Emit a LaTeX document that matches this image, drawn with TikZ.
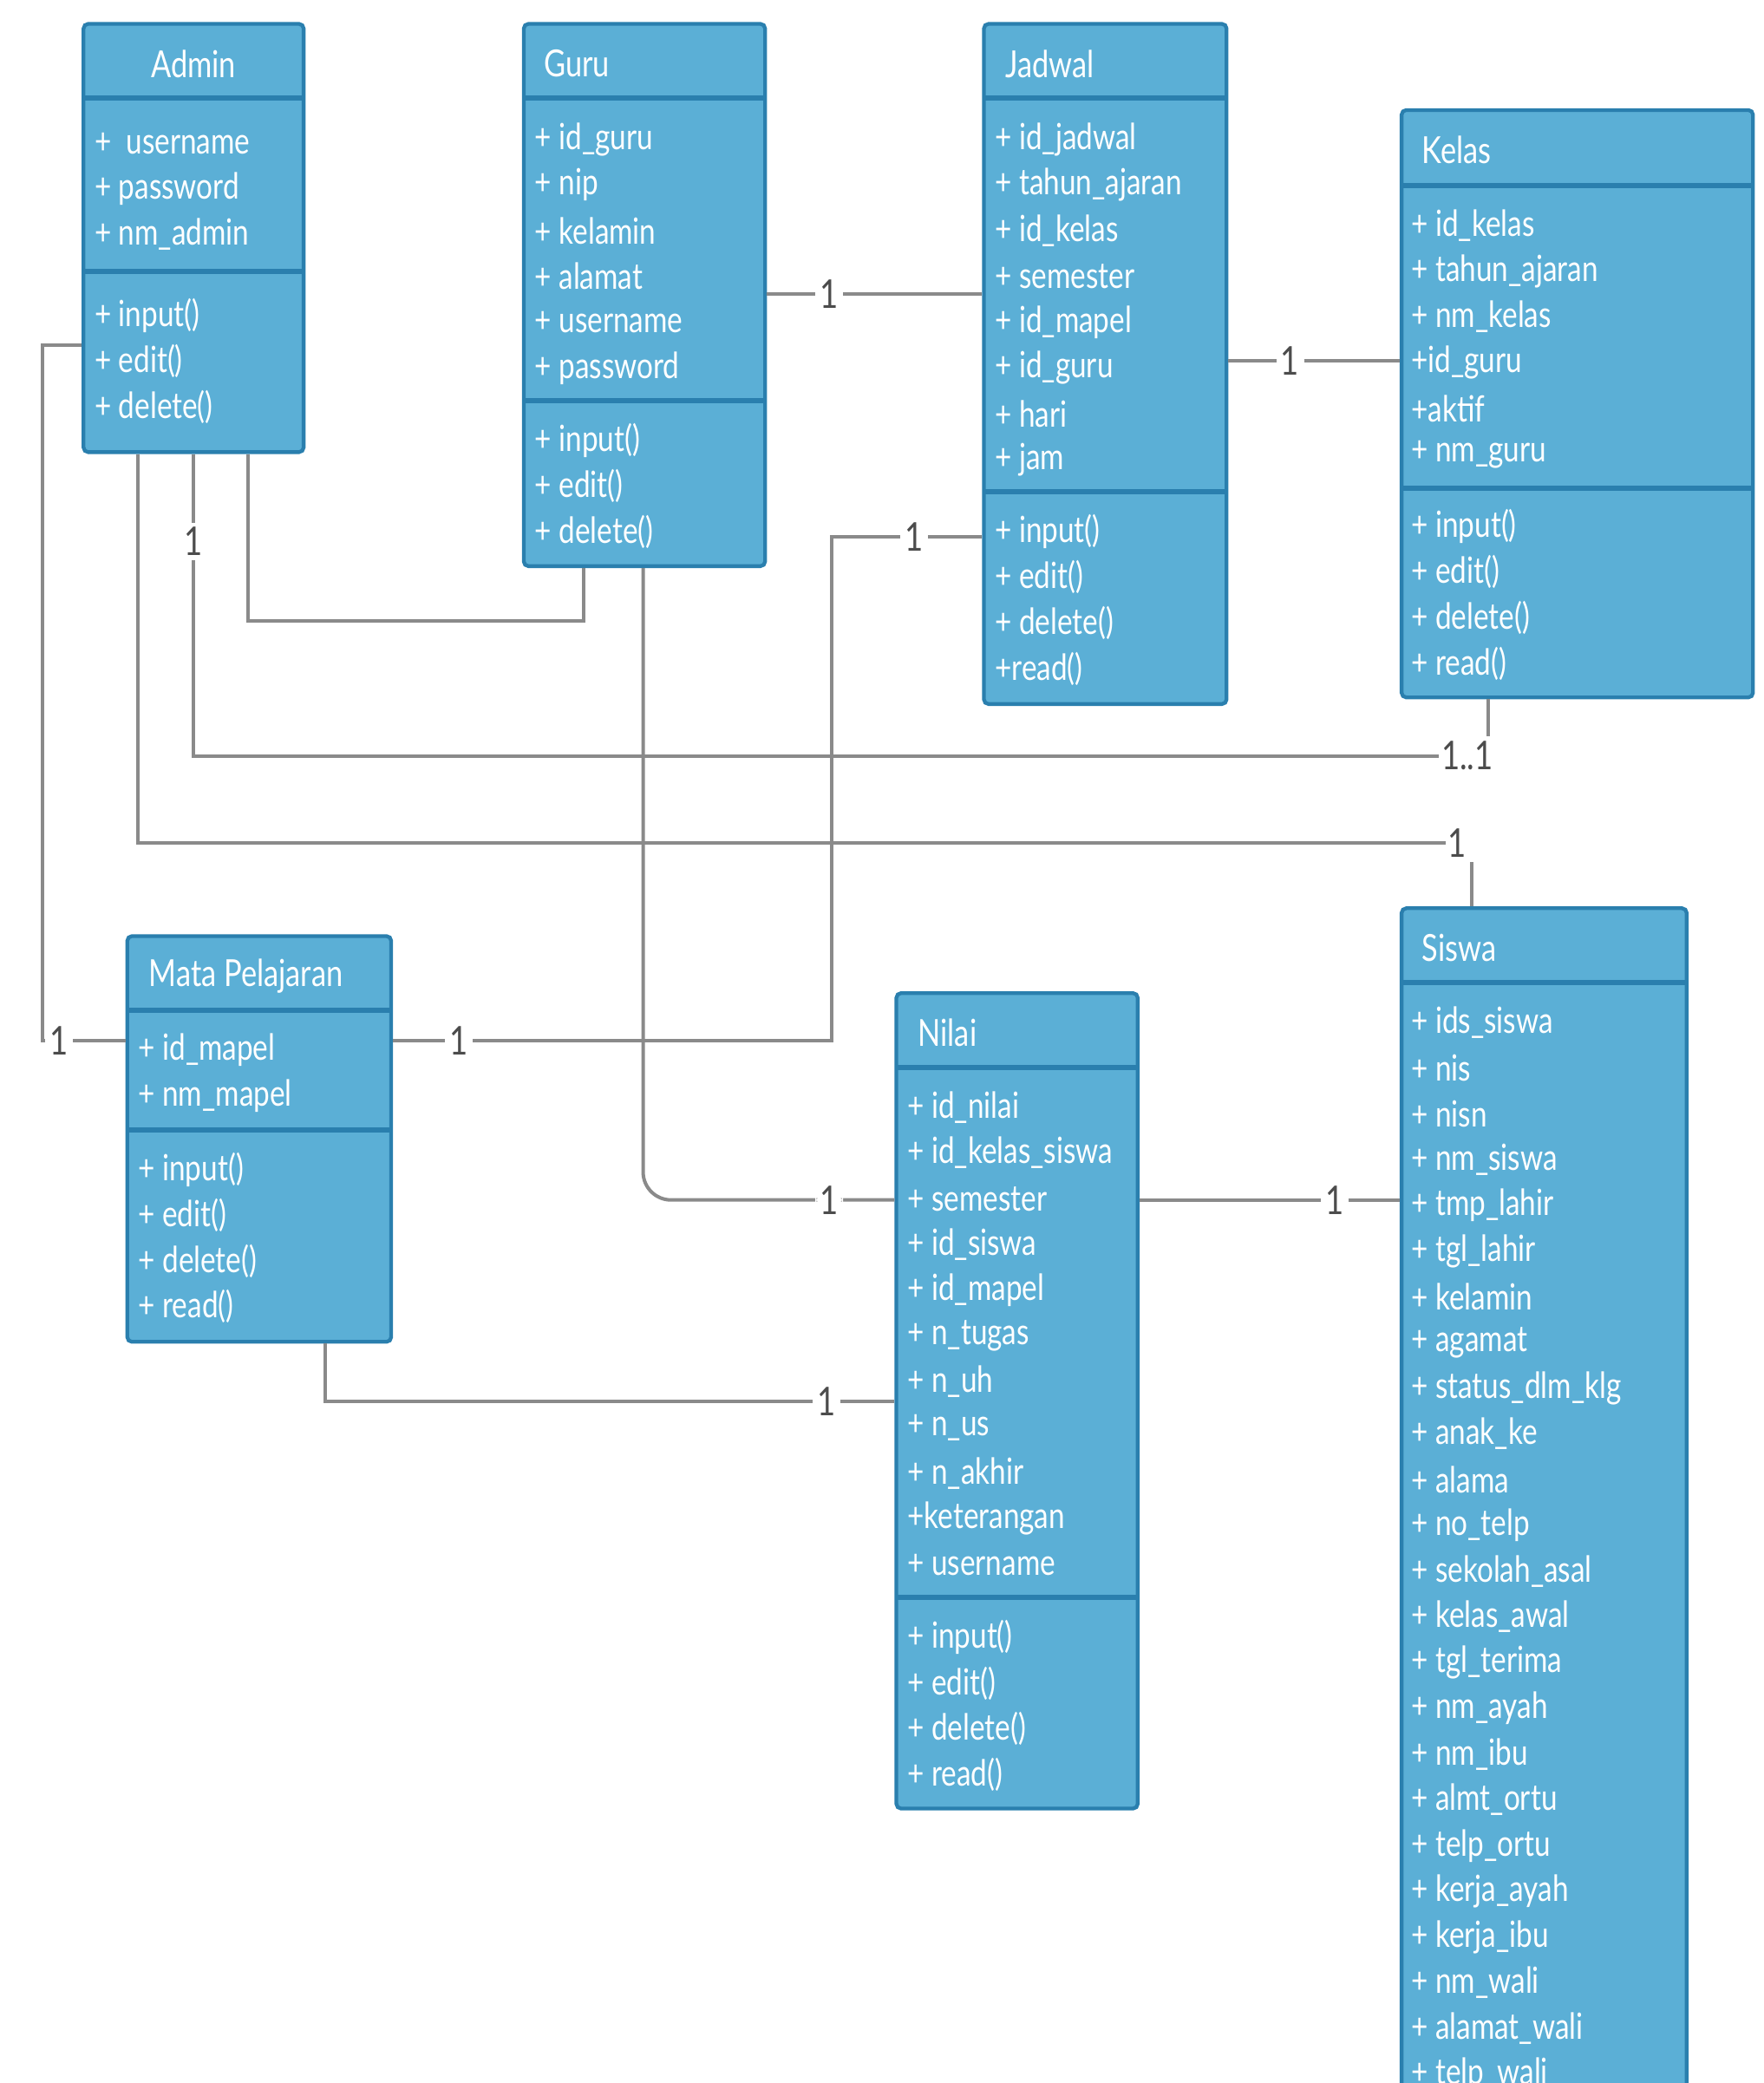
\documentclass[tikz,border=0pt]{standalone}
\usepackage{fontspec}
\setmainfont[FakeStretch=0.8]{Lato}
\usetikzlibrary{fit}
\definecolor{boxfill}{HTML}{5BAFD6}
\definecolor{boxline}{HTML}{2A7FAE}
\definecolor{conn}{HTML}{8A8A8A}
\tikzset{
  box/.style={draw=boxline, line width=1.6pt, fill=boxfill, rounded corners=2pt, inner sep=0pt},
  sep/.style={draw=boxline, line width=2.2pt},
  attr/.style={anchor=west, text=white, font=\fontsize{15.5}{19}\selectfont, inner sep=0pt},
  ttl/.style={text=white, font=\fontsize{16}{20}\selectfont, inner sep=0pt},
  wire/.style={draw=conn, line width=1.5pt},
  mult/.style={fill=white, text=black!70, font=\fontsize{17}{20}\selectfont, inner sep=2pt},
}
\newcommand\umlrows[4]{\foreach \t [count=\i from 0] in {#4} \node[attr] (#1-\i) at (#2, {-(#3+34.5*\i)}) {\t};}
\newcommand\umlbox[7]{%
  \node[box, fit={(#2,-#3)(#4,-#5)}] (#1) {};
  \draw[sep] (#2,-#6) -- (#4,-#6);
  \draw[sep] (#2,-#7) -- (#4,-#7);}
\begin{document}
\begin{tikzpicture}[x=0.02cm,y=0.02cm]
\useasboundingbox (0,0) rectangle (1330,-1571);
% Admin
\umlbox{admin}{63}{18}{229}{341}{74}{205}
\node[ttl] (admin-t) at (146,-48) {Admin};
\umlrows{aa}{71}{108}{+\ \ username,+ password,+ nm\_admin}
\umlrows{am}{71}{238}{+ input(),+ edit(),+ delete()}
% Guru
\umlbox{guru}{395}{18}{577}{427}{74}{302}
\node[ttl,anchor=west] (guru-t) at (410,-48) {Guru};
\umlrows{ga}{403}{105}{+ id\_guru,+ nip,+ kelamin,+ alamat,+ username,+ password}
\umlrows{gm}{403}{332}{+ input(),+ edit(),+ delete()}
% Jadwal
\umlbox{jadwal}{742}{18}{925}{531}{74}{371}
\node[ttl,anchor=west] (jadwal-t) at (758,-48) {Jadwal};
\umlrows{ja}{750}{105}{+ id\_jadwal,+ tahun\_ajaran,+ id\_kelas,+ semester,+ id\_mapel,+ id\_guru,+ hari,+ jam}
\umlrows{jm}{750}{401}{+ input(),+ edit(),+ delete(),+read()}
% Kelas
\umlbox{kelas}{1057}{83}{1322}{526}{140}{368}
\node[ttl,anchor=west] (kelas-t) at (1072,-113) {Kelas};
\umlrows{ka}{1064}{170}{+ id\_kelas,+ tahun\_ajaran,+ nm\_kelas,+id\_guru,+aktif,+ nm\_guru}
\umlrows{km}{1064}{397}{+ input(),+ edit(),+ delete(),+ read()}
% Mata Pelajaran
\umlbox{mapel}{96}{706}{295}{1012}{762}{852}
\node[ttl,anchor=west] (mapel-t) at (112,-736) {Mata Pelajaran};
\umlrows{ma}{104}{792}{+ id\_mapel,+ nm\_mapel}
\umlrows{mm}{104}{882}{+ input(),+ edit(),+ delete(),+ read()}
% Nilai
\umlbox{nilai}{676}{749}{858}{1364}{805}{1205}
\node[ttl,anchor=west] (nilai-t) at (692,-779) {Nilai};
\umlrows{na}{684}{835}{+ id\_nilai,+ id\_kelas\_siswa,+ semester,+ id\_siswa,+ id\_mapel,+ n\_tugas,+ n\_uh,+ n\_us,+ n\_akhir,+keterangan,+ username}
\umlrows{nm}{684}{1235}{+ input(),+ edit(),+ delete(),+ read()}
% Siswa
\begin{scope}
\clip (0,0) rectangle (1330,-1571);
\umlbox{siswa}{1057}{685}{1272}{1600}{741}{1600}
\end{scope}
\node[ttl,anchor=west] (siswa-t) at (1072,-715) {Siswa};
\umlrows{sa}{1064}{771}{+ ids\_siswa,+ nis,+ nisn,+ nm\_siswa,+ tmp\_lahir,+ tgl\_lahir,+ kelamin,+ agamat,+ status\_dlm\_klg,+ anak\_ke,+ alama,+ no\_telp,+ sekolah\_asal,+ kelas\_awal,+ tgl\_terima,+ nm\_ayah,+ nm\_ibu,+ almt\_ortu,+ telp\_ortu,+ kerja\_ayah,+ kerja\_ibu,+ nm\_wali,+ alamat\_wali,+ telp\_wali}
% connectors
\draw[wire] (guru.east |- 0,-222) -- node[mult,pos=0.29] (m1) {1} (jadwal.west |- 0,-222);
\draw[wire] (jadwal.east |- 0,-272) -- node[mult,pos=0.36] (m2) {1} (kelas.west |- 0,-272);
\draw[wire] (admin.south -| 187,0) -- (187,-468) -- (440,-468) -- (guru.south -| 440,0);
\coordinate (c11) at (1085,-570);
\draw[wire] (admin.south -| 146,0) -- node[mult,pos=0.29] (m3) {1} (146,-570) -- (c11);
\node[mult,anchor=west,inner sep=1pt] (m4) at (c11) {1..1};
\coordinate (c12) at (1122,-555);
\draw[wire] (kelas.south -| 1122,0) -- (c12);
\coordinate (c21) at (1090,-636);
\draw[wire] (admin.south -| 104,0) -- (104,-636) -- (c21);
\node[mult,anchor=west,inner sep=1pt] (m5) at (c21) {1};
\coordinate (c22) at (1110,-650);
\draw[wire] (siswa.north -| 1110,0) -- (c22);
\draw[wire] (admin.west |- 0,-260) -- (32,-260) -- (32,-785) -- node[mult,pos=0.2] (m6) {1} (mapel.west |- 0,-785);
\draw[wire] (mapel.east |- 0,-785) -- node[mult,pos=0.15] (m7) {1} (627,-785) -- (627,-405) -- node[mult,pos=0.55] (m8) {1} (jadwal.west |- 0,-405);
\draw[wire,rounded corners=12pt] (guru.south -| 485,0) -- (485,-905) -- node[mult,pos=0.74] (m9) {1} (nilai.west |- 0,-905);
\draw[wire] (mapel.south -| 245,0) -- (245,-1057) -- node[mult,pos=0.88] (m10) {1} (nilai.west |- 0,-1057);
\draw[wire] (nilai.east |- 0,-905) -- node[mult,pos=0.75] (m11) {1} (siswa.west |- 0,-905);
\end{tikzpicture}
\end{document}
